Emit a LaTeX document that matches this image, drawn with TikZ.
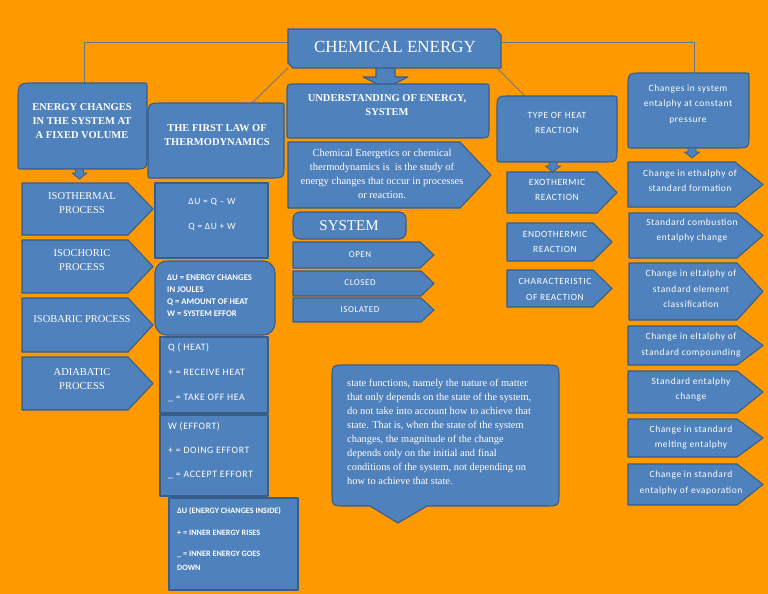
\documentclass[tikz,border=0pt]{standalone}
\usepackage{fontspec}
\setmainfont{Liberation Serif}
\newfontfamily\calib{Carlito}
\newfontfamily\calibsp[LetterSpace=6]{Carlito}
\usetikzlibrary{calc}
\definecolor{bgor}{RGB}{255,153,0}
\definecolor{boxb}{RGB}{79,129,189}
\definecolor{boxd}{RGB}{56,93,138}
\definecolor{conn}{RGB}{110,120,140}
\tikzset{
  shp/.style={fill=boxb, draw=boxd, line width=1.1pt, line join=round},
  bx/.style={inner sep=0pt, outer sep=0pt},
  conline/.style={draw=conn, line width=0.9pt},
  ttl/.style={text=white, inner sep=0pt, font=\bfseries\fontsize{10.5}{14}\selectfont, align=center},
  ser/.style={text=white, inner sep=0pt, font=\fontsize{10.5}{14}\selectfont, align=center},
  sansA/.style={text=white, inner sep=0pt, font=\calibsp\fontsize{9.5}{15.5}\selectfont, align=center},
  sansS/.style={text=white, inner sep=0pt, font=\calibsp\fontsize{9}{12}\selectfont, align=center},
  sansL/.style={text=white, inner sep=0pt, anchor=west, align=left},
  note/.style={text=white, inner sep=0pt, anchor=west, align=left, font=\fontsize{10.4}{14}\selectfont},
}
\newcommand\mkbox[5]{\node[bx,minimum width={(#4)-(#2)},minimum height={(#5)-(#3)}] (#1) at ({((#2)+(#4))/2},{((#3)+(#5))/2}) {};}
\newcommand\penta[2]{\draw[shp] (#1.north west) -- ([xshift=-#2]#1.north east) -- (#1.east) -- ([xshift=-#2]#1.south east) -- (#1.south west) -- cycle;}
\newcommand\rdiag[4]{\draw[shp] ([yshift=-#2]#1.north west) .. controls (#1.north west) .. ([xshift=#2]#1.north west) -- ([xshift=-#3]#1.north east) .. controls (#1.north east) .. ([yshift=-#3]#1.north east) -- ([yshift=#4]#1.south east) .. controls (#1.south east) .. ([xshift=-#4]#1.south east) -- ([xshift=#3]#1.south west) .. controls (#1.south west) .. ([yshift=#3]#1.south west) -- cycle;}
\newcommand\smarrow[1]{\draw[shp,line width=0.8pt] ($(#1)+(-4,0)$) -- ($(#1)+(-4,4)$) -- ($(#1)+(-7.5,4)$) -- ($(#1)+(0,10)$) -- ($(#1)+(7.5,4)$) -- ($(#1)+(4,4)$) -- ($(#1)+(4,0)$) -- cycle;}
\begin{document}
\begin{tikzpicture}[x=1pt,y=-1pt]
\useasboundingbox (0,0) rectangle (768,594);
\fill[bgor] (0,0) rectangle (768,594);
% boxes (geometry)
\mkbox{ce}{288}{29}{501}{68}
\mkbox{ec}{18}{83}{147}{169}
\mkbox{fl}{148}{103}{284}{178}
\mkbox{un}{287}{84}{489}{138}
\mkbox{cg}{288}{142}{491}{208}
\mkbox{sys}{293}{212}{406}{239}
\mkbox{open}{293}{242}{434}{268}
\mkbox{closed}{293}{271}{434}{296}
\mkbox{isol}{293}{298}{434}{322}
\mkbox{th}{497}{96}{617}{162}
\mkbox{exo}{507}{172}{617}{213}
\mkbox{endo}{507}{223}{612}{261}
\mkbox{char}{507}{270}{612}{307}
\mkbox{cs}{628}{73}{749}{148}
\mkbox{fa}{628}{162}{763}{207}
\mkbox{fb}{629}{213}{763}{258}
\mkbox{fc}{629}{263}{763}{320}
\mkbox{fd}{628}{326}{763}{365}
\mkbox{fe}{628}{371}{763}{413}
\mkbox{ff}{628}{419}{763}{457}
\mkbox{fg}{628}{464}{763}{505}
\mkbox{pa}{22}{183}{153}{235}
\mkbox{pb}{22}{240}{153}{293}
\mkbox{pc}{22}{298}{153}{352}
\mkbox{pd}{22}{357}{153}{410}
\mkbox{eq}{155}{183}{268}{258}
\mkbox{def}{155}{261}{275}{335}
\mkbox{qh}{160}{337}{268}{413}
\mkbox{we}{160}{415}{268}{496}
\mkbox{du}{169}{498}{298}{590}
\mkbox{callout}{332}{365}{559}{506}
% connectors
\draw[conline] ([yshift=6]ce.west) -| ([xshift=2]ec.north);
\draw[conline] ([yshift=6]ce.east) -| ([xshift=6]cs.north);
\draw[conline] (ce.south west) -- ([xshift=36]fl.north);
\draw[conline] ([xshift=-4]ce.south east) -- ([xshift=-32]th.north);
% block arrow below title
\draw[shp] (376,67) -- (376,77) -- (363,77) -- (385.5,88) -- (408,77) -- (395,77) -- (395,67);
% shapes
\draw[shp] (ce.north west) -- ([xshift=-6]ce.north east) -- ([yshift=-6]ce.north east) -- (ce.south east) -- ([xshift=5]ce.south west) -- ([yshift=5]ce.south west) -- cycle;
\rdiag{ec}{18}{4}{14}
\rdiag{fl}{16}{3}{14}
\rdiag{un}{8}{3}{10}
\penta{cg}{31}
\draw[shp,rounded corners=7] (sys.north west) rectangle (sys.south east);
\penta{open}{14}
\penta{closed}{13}
\penta{isol}{13}
\rdiag{th}{14}{3}{14}
\penta{exo}{20}
\penta{endo}{19}
\penta{char}{19}
\rdiag{cs}{15}{3}{14}
\penta{fa}{28}
\penta{fb}{26}
\penta{fc}{26}
\penta{fd}{26}
\penta{fe}{26}
\penta{ff}{26}
\penta{fg}{26}
\penta{pa}{25}
\penta{pb}{25}
\penta{pc}{25}
\penta{pd}{25}
\draw[shp] (eq.north west) rectangle (eq.south east);
\draw[shp,rounded corners=12] (def.north west) rectangle (def.south east);
\draw[shp] (qh.north west) rectangle (qh.south east);
\draw[shp] (we.north west) rectangle (we.south east);
\draw[shp] (du.north west) rectangle (du.south east);
\draw[shp] ([yshift=-14]callout.north west) .. controls (callout.north west) .. ([xshift=14]callout.north west) -- ([xshift=-14]callout.north east) .. controls (callout.north east) .. ([yshift=-14]callout.north east) -- ([yshift=14]callout.south east) .. controls (callout.south east) .. ([xshift=-14]callout.south east) -- (427,506) -- (398,523) -- (370,506) -- ([xshift=14]callout.south west) .. controls (callout.south west) .. ([yshift=14]callout.south west) -- cycle;
\smarrow{[xshift=-3]ec.south}
\smarrow{[xshift=-4]th.south}
\smarrow{[xshift=3.5]cs.south}
% texts
\node[ser, font=\fontsize{17}{20}\selectfont] (ce-t) at (395,47) {CHEMICAL ENERGY};
\node[ttl] (ec-t) at (82,121) {ENERGY CHANGES\\IN THE SYSTEM AT\\A FIXED VOLUME};
\node[ttl] (fl-t) at (217,135) {THE FIRST LAW OF\\THERMODYNAMICS};
\node[ttl] (un-t) at (387,105.5) {UNDERSTANDING OF ENERGY,\\SYSTEM};
\node[ser] (cg-t) at (382,174) {Chemical Energetics or chemical\\thermodynamics is \ is the study of\\energy changes that occur in processes\\or reaction.};
\node[ser, font=\fontsize{15}{18}\selectfont] (sys-t) at (349,226) {SYSTEM};
\node[sansS] (open-t) at (360,255) {OPEN};
\node[sansS] (closed-t) at (360,283) {CLOSED};
\node[sansS] (isol-t) at (360,310) {ISOLATED};
\node[sansA] (th-t) at (557,123) {TYPE OF HEAT\\REACTION};
\node[sansA] (exo-t) at (557,190) {EXOTHERMIC\\REACTION};
\node[sansA] (endo-t) at (555,242) {ENDOTHERMIC\\REACTION};
\node[sansA] (char-t) at (555,289.5) {CHARACTERISTIC\\OF REACTION};
\node[sansA] (cs-t) at (688,104) {Changes in system\\entalphy at constant\\pressure};
\node[sansA] (fa-t) at (690,180.5) {Change in ethalphy of\\standard formation};
\node[sansA] (fb-t) at (692,230.5) {Standard combustion\\entalphy change};
\node[sansA] (fc-t) at (691,289) {Change in eltalphy of\\standard element\\classification};
\node[sansA] (fd-t) at (691,345) {Change in eltalphy of\\standard compounding};
\node[sansA] (fe-t) at (691,389.5) {Standard entalphy\\change};
\node[sansA] (ff-t) at (691,437.5) {Change in standard\\melting entalphy};
\node[sansA] (fg-t) at (691,483) {Change in standard\\entalphy of evaporation};
\node[ser] (pa-t) at (82,203) {ISOTHERMAL\\PROCESS};
\node[ser] (pb-t) at (82,260.5) {ISOCHORIC\\PROCESS};
\node[ser] (pc-t) at (82,319) {ISOBARIC PROCESS};
\node[ser] (pd-t) at (82,379.5) {ADIABATIC\\PROCESS};
\node[sansA, font=\calibsp\fontsize{9.5}{25}\selectfont] (eq-t) at (212,214.5) {ΔU = Q – W\\Q = ΔU + W};
\node[sansL, font=\calib\bfseries\fontsize{8.7}{12}\selectfont] (def-t) at (167,296) {ΔU = ENERGY CHANGES\\IN JOULES\\Q = AMOUNT OF HEAT\\W = SYSTEM EFFOR};
\node[sansL, font=\calibsp\fontsize{9.8}{25}\selectfont] (qh-t) at (168,373) {Q ( HEAT)\\+ = RECEIVE HEAT\\\_ = TAKE OFF HEA};
\node[sansL, font=\calibsp\fontsize{9.8}{24}\selectfont] (we-t) at (168,451) {W (EFFORT)\\+ = DOING EFFORT\\\_ = ACCEPT EFFORT};
\node[sansL, font=\calib\bfseries\fontsize{8.2}{14}\selectfont] (du-t) at (177,538.5) {ΔU (ENERGY CHANGES INSIDE)\\[8pt]+ = INNER ENERGY RISES\\[7pt]\_ = INNER ENERGY GOES\\DOWN};
\node[note] (callout-t) at (347,432) {state functions, namely the nature of matter\\that only depends on the state of the system,\\do not take into account how to achieve that\\state. That is, when the state of the system\\changes, the magnitude of the change\\depends only on the initial and final\\conditions of the system, not depending on\\how to achieve that state.};
\end{tikzpicture}
\end{document}
